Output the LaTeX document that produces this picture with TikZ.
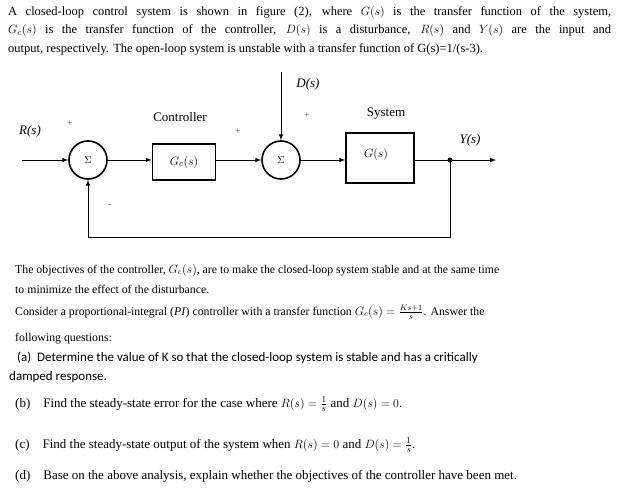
\documentclass[tikz,border=0pt]{standalone}
\usepackage{fontspec}
\setmainfont{Liberation Serif}
\newfontfamily\carlitofont{Carlito}
\begin{document}
\begin{tikzpicture}[x=1pt,y=-1pt,
  blk/.style={draw,line width=1.6pt,minimum width=#1,inner sep=0pt},
  sumn/.style={draw,circle,line width=1.6pt,minimum size=38pt,inner sep=0pt,font=\fontsize{10}{10}\selectfont},
  lab/.style={font=\fontsize{13}{15}\selectfont},
  sgn/.style={font=\fontsize{10}{10}\selectfont,text=gray!70!black},
  ln/.style={line width=1pt},
  arr/.style={line width=1pt,-latex},
  tx/.style={anchor=west,inner sep=0pt,font=\fontsize{12.5}{15}\selectfont},
  ty/.style={anchor=west,inner sep=0pt,font=\fontsize{11.8}{14}\selectfont}]
\useasboundingbox (0,0) rectangle (621,495);
\node[tx] at (8,13) {\hbox to 603pt{A closed-loop control system is shown in figure (2), where $G(s)$ is the transfer function of the system,}};
\node[tx] at (8,31) {\hbox to 603pt{$G_c(s)$ is the transfer function of the controller, $D(s)$ is a disturbance, $R(s)$ and $Y(s)$ are the input and}};
\node[tx] at (8,49) {output, respectively. The open-loop system is unstable with a transfer function of G(s)=1/(s-3).};
% diagram
\node[sumn] (s1) at (88,160) {$\Sigma$};
\node[blk=63pt,minimum height=36pt] (gc) at (184,162) {\fontsize{13}{13}\selectfont$G_c(s)$};
\node[sumn] (s2) at (281,160) {$\Sigma$};
\node[blk=68pt,minimum height=50pt] (g) at (380,158) {};
\node[lab] at (376,154) {$G(s)$};
\coordinate (in) at (22,160);
\coordinate (out) at (496,160);
\coordinate (jn) at (450,160);
\coordinate (fb) at (450,237);
\coordinate (fb2) at (88,237);
\coordinate (dt) at (281,72);
\draw[arr] (in) -- (s1);
\draw[arr] (s1) -- (gc.west |- s1);
\draw[arr] (gc.east |- s2) -- (s2);
\draw[arr] (s2) -- (g.west |- s2);
\draw[arr] (g.east |- s2) -- (out);
\fill (jn) circle (2.5pt);
\draw[ln] (jn) -- (fb) -- (fb2);
\draw[arr] (fb2) -- (s1);
\draw[arr] (dt) -- (s2);
\node[lab] at (30,131) {\itshape R(s)};
\node[lab] at (180,117) {Controller};
\node[lab] at (386,114) {System};
\node[lab] at (308,84) {\itshape D(s)};
\node[lab] at (470,140) {\itshape Y(s)};
\node[sgn] at (70,124) {+};
\node[sgn] at (238,132) {+};
\node[sgn] at (307,116) {+};
\node[sgn] at (110,206) {-};
% lower text
\node[ty] at (15,270) {The objectives of the controller, $G_c(s)$, are to make the closed-loop system stable and at the same time};
\node[ty] at (15,289) {to minimize the effect of the disturbance.};
\node[ty] at (15,312) {Consider a proportional-integral (\textit{PI}) controller with a transfer function $G_c(s)=\frac{Ks+1}{s}$. Answer the};
\node[ty] at (15,339) {following questions:};
\node[ty,font=\carlitofont\fontsize{13}{15}\selectfont] at (17,358) {(a)\ \ Determine the value of K so that the closed-loop system is stable and has a critically};
\node[ty,font=\carlitofont\fontsize{13}{15}\selectfont] at (9,377) {damped response.};
\node[ty,font=\fontsize{13}{15}\selectfont] at (15,404) {(b)\quad Find the steady-state error for the case where $R(s)=\frac{1}{s}$ and $D(s)=0$.};
\node[ty,font=\fontsize{13}{15}\selectfont] at (15,445) {(c)\quad Find the steady-state output of the system when $R(s)=0$ and $D(s)=\frac{1}{s}$.};
\node[ty,font=\fontsize{13}{15}\selectfont] at (15,476) {(d)\quad Base on the above analysis, explain whether the objectives of the controller have been met.};
\end{tikzpicture}
\end{document}
